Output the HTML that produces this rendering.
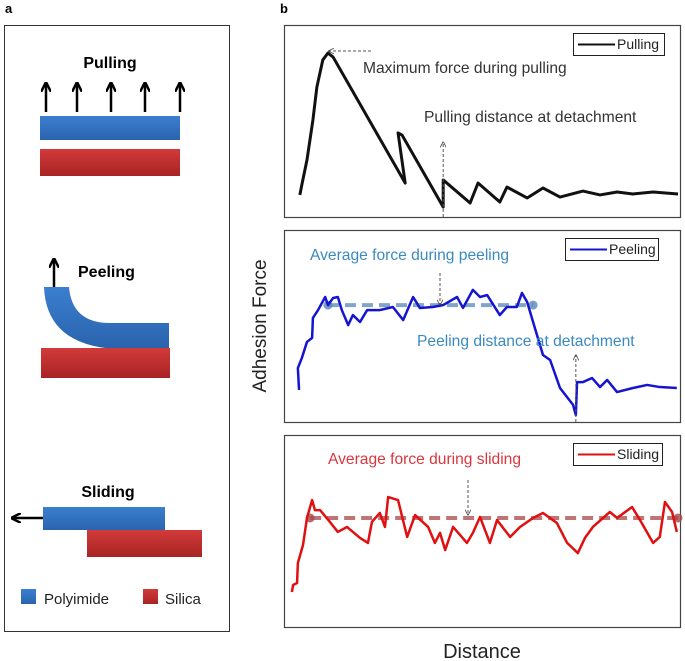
<!DOCTYPE html>
<html><head><meta charset="utf-8"><style>
body{margin:0;background:#fff;width:685px;height:661px;overflow:hidden}
svg{display:block;font-family:"Liberation Sans","DejaVu Sans",sans-serif}
</style></head><body>
<svg id="fig" width="685" height="661" viewBox="0 0 685 661">
<defs>
<linearGradient id="gb" x1="0" y1="0" x2="0" y2="1"><stop offset="0" stop-color="#3b7fd0"/><stop offset="1" stop-color="#2a63ad"/></linearGradient>
<linearGradient id="gr" x1="0" y1="0" x2="0" y2="1"><stop offset="0" stop-color="#d23a3a"/><stop offset="1" stop-color="#a82424"/></linearGradient>
<marker id="ah" viewBox="0 0 10 10" refX="9" refY="5" markerWidth="6" markerHeight="6" orient="auto"><path d="M0,0 L10,5 L0,10" fill="none" stroke="#444" stroke-width="1.3"/></marker>
<marker id="bh" viewBox="0 0 10 10" refX="8" refY="5" markerWidth="4" markerHeight="4" orient="auto"><path d="M0,0 L10,5 L0,10" fill="none" stroke="#000" stroke-width="2.5"/></marker>
</defs>
<text x="5" y="13" font-size="13" font-weight="bold">a</text>
<text x="280" y="13" font-size="13" font-weight="bold">b</text>
<g>
<rect x="4.5" y="25.5" width="225" height="606" fill="none" stroke="#333" stroke-width="1"/>
<text x="110" y="68" font-size="16" font-weight="bold" text-anchor="middle">Pulling</text>
<g stroke="#000" stroke-width="2.5" marker-end="url(#bh)">
<line x1="46" y1="112" x2="46" y2="84"/><line x1="77" y1="112" x2="77" y2="84"/><line x1="111" y1="112" x2="111" y2="84"/><line x1="145" y1="112" x2="145" y2="84"/><line x1="180" y1="112" x2="180" y2="84"/></g>
<rect x="40" y="116" width="140" height="24" fill="url(#gb)"/>
<rect x="40" y="149" width="140" height="27" fill="url(#gr)"/>
<text x="78" y="277" font-size="16" font-weight="bold">Peeling</text>
<line x1="54" y1="289" x2="54" y2="260" stroke="#000" stroke-width="2.5" marker-end="url(#bh)"/>
<path d="M44,287 L69,287 Q72,323 110,323 L169,323 L169,348 L105,348 Q46,340 44,287 Z" fill="url(#gb)"/>
<rect x="41" y="348" width="129" height="30" fill="url(#gr)"/>
<text x="108" y="497" font-size="16" font-weight="bold" text-anchor="middle">Sliding</text>
<rect x="43" y="507" width="122" height="23" fill="url(#gb)"/>
<line x1="43" y1="518" x2="13" y2="518" stroke="#000" stroke-width="2.5" marker-end="url(#bh)"/>
<rect x="87" y="530" width="115" height="27" fill="url(#gr)"/>
<rect x="21" y="589" width="15" height="15" fill="url(#gb)"/>
<text x="44" y="604" font-size="15" fill="#222">Polyimide</text>
<rect x="143" y="589" width="15" height="15" fill="url(#gr)"/>
<text x="165" y="604" font-size="15" fill="#222">Silica</text>
</g>
<text transform="translate(266,326) rotate(-90)" font-size="19" text-anchor="middle" fill="#222">Adhesion Force</text>
<text x="482" y="658" font-size="20" text-anchor="middle" fill="#222">Distance</text>
<g id="charts"></g>
</svg>
<script>
// Pulling series
const pullX=[4.0,4.5,5.8,7.3,8.3,9.8,11.1,12.4,30.6,28.8,29.8,40.2,40.2,47.0,49.0,54.5,56.3,61.4,65.4,69.7,75.5,79.8,84.1,88.1,93.2,99.5];
const pullY=[11.5,16.7,29.7,50.5,67.7,81.8,85.4,83.3,17.7,43.8,42.7,5.2,19.3,7.3,17.7,7.8,15.6,9.9,15.1,10.4,13.5,11.5,13.0,12.0,13.0,12.0];
// Peeling series
const peelX=[3.8,3.5,4.5,5.8,7.1,7.3,8.6,10.4,11.1,12.4,13.6,14.6,16.2,17.4,19.2,21.0,24.2,27.5,30.1,32.6,34.3,37.6,40.2,43.7,45.2,47.7,49.5,51.3,54.5,56.3,58.8,60.1,61.4,62.9,65.4,67.2,69.7,73.0,73.7,74.0,75.5,77.8,79.8,81.6,84.1,88.1,91.7,94.9,99.2];
const peelY=[16.7,28.1,33.3,41.7,43.8,54.2,58.3,65.1,60.9,64.6,65.1,58.3,50.5,55.7,52.1,58.3,58.3,59.9,53.1,65.1,59.4,59.9,60.9,65.1,59.4,68.8,65.1,66.1,55.7,59.9,59.9,67.2,62.5,52.1,34.9,32.3,17.7,8.9,3.6,20.8,20.8,22.9,18.2,21.9,15.6,17.7,19.3,18.2,17.7];
const peelAvg=[11.1,62.9,60.9];
// Sliding series
const slideX=[2.0,2.3,3.3,3.5,4.8,5.8,7.1,7.8,9.1,11.6,13.6,15.9,19.2,21.2,22.2,24.2,25.5,26.3,28.8,31.1,33.1,36.4,38.1,39.4,40.7,42.7,46.2,47.7,49.5,52.0,53.8,57.1,59.6,62.9,65.4,68.9,71.5,74.2,76.0,78.0,82.3,84.1,87.9,89.9,93.2,94.9,96.2,98.0,99.2];
const slideY=[18.2,21.9,22.9,33.3,42.7,56.8,66.1,60.9,60.9,54.7,49.5,52.1,46.4,43.8,54.7,59.4,52.1,67.7,66.1,46.9,58.3,52.1,43.8,49.0,40.1,52.1,43.8,49.0,57.3,43.8,55.7,46.9,52.1,56.8,59.4,54.2,43.8,38.5,46.4,52.1,59.9,56.8,62.5,55.7,43.8,46.9,65.1,59.9,49.5];
const slideAvg=[6.6,99.5,56.8];

const NS="http://www.w3.org/2000/svg";
const root=document.getElementById('charts');
function mk(tag,attrs,parent){const e=document.createElementNS(NS,tag);for(const k in attrs)e.setAttribute(k,attrs[k]);(parent||root).appendChild(e);return e;}
function chart(top,name,color,xs,ys,avg,avgColor,sw){
  const L=284,R=680,T=top,B=top+192;
  const sx=v=>L+(R-L)*v/100, sy=v=>B-(B-T)*v/100;
  const g=mk('g',{});
  
  
  const box=mk('rect',{x:L+0.5,y:T+0.5,width:R-L,height:B-T,fill:'none',stroke:'#444','stroke-width':1.2},g);
  
  
  if(avg){
    const a=mk('line',{x1:sx(avg[0]),y1:sy(avg[2]),x2:sx(avg[1]),y2:sy(avg[2]),stroke:avgColor,'stroke-width':4,'stroke-dasharray':'11 6',opacity:0.75},g);
    
    
    [avg[0],avg[1]].forEach(v=>{const c=mk('circle',{cx:sx(v),cy:sy(avg[2]),r:4.5,fill:avgColor,opacity:0.8},g);
      
      });
  }
  const p=mk('polyline',{points:xs.map((x,i)=>sx(x)+','+sy(ys[i])).join(' '),fill:'none',stroke:color,'stroke-width':sw,'stroke-linejoin':'round'},g);
  
  
  return {g,sx,sy,L,R,T,B};
}
function legend(g,x,y,w,color,label,name){
  const lg=mk('g',{},g);
  
  
  mk('rect',{x:x+0.5,y:y+0.5,width:w,height:22,fill:'#fff',stroke:'#222','stroke-width':1},lg);
  mk('line',{x1:x+5,y1:y+11.5,x2:x+42,y2:y+11.5,stroke:color,'stroke-width':2},lg);
  const t=mk('text',{x:x+44,y:y+16,'font-size':14,fill:'#222'},lg);t.textContent=label;
}
function note(g,x,y,txt,color,name){const t=mk('text',{x:x,y:y,'font-size':15.6,fill:color},g);t.textContent=txt;
  
  }
function arrow(g,x1,y1,x2,y2,name){const l=mk('line',{x1,y1,x2,y2,stroke:'#555','stroke-width':1,'stroke-dasharray':'3 2','marker-end':'url(#ah)'},g);
  
  }

const c1=chart(25,'pulling','#111',pullX,pullY,null,null,3);
legend(c1.g,573,33,91,'#111','Pulling','pulling');
note(c1.g,363,73,'Maximum force during pulling','#333','max-force-annotation');
arrow(c1.g,371,51,c1.sx(11.3),51,'max-force-arrow');
note(c1.g,424,122,'Pulling distance at detachment','#333','pulling-detach-annotation');
arrow(c1.g,c1.sx(40.2),217,c1.sx(40.2),142,'pulling-detach-arrow');

const c2=chart(230,'peeling','#1515d0',peelX,peelY,peelAvg,'#5a86b8',2.5);
legend(c2.g,565,238,93,'#1515d0','Peeling','peeling');
note(c2.g,310,260,'Average force during peeling','#3a8ac0','avg-peeling-annotation');
arrow(c2.g,440,273,440,305,'avg-peeling-arrow');
note(c2.g,417,346,'Peeling distance at detachment','#3a8ac0','peeling-detach-annotation');
arrow(c2.g,c2.sx(73.7),422,c2.sx(73.7),355,'peeling-detach-arrow');

const c3=chart(435,'sliding','#e01010',slideX,slideY,slideAvg,'#a84848',2.5);
legend(c3.g,573,443,89,'#e01010','Sliding','sliding');
note(c3.g,328,464,'Average force during sliding','#d9363e','avg-sliding-annotation');
arrow(c3.g,468,480,468,515,'avg-sliding-arrow');
</script>
</body></html>
